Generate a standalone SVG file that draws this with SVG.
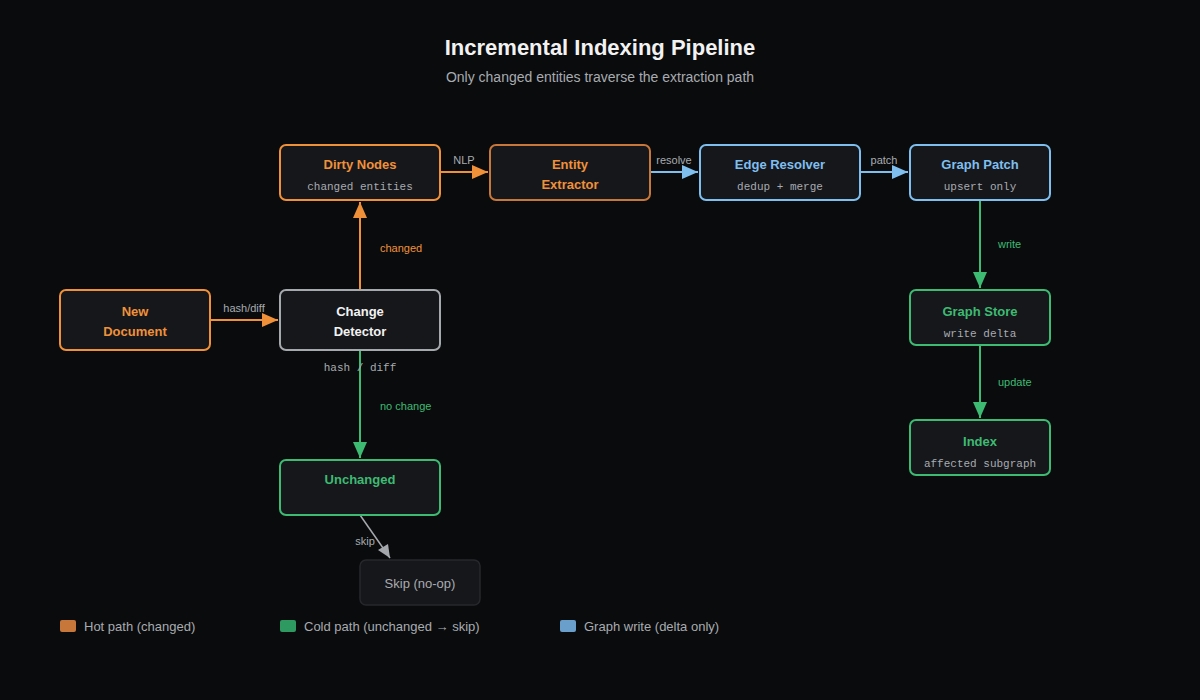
<svg xmlns="http://www.w3.org/2000/svg" width="1200" height="700" viewBox="0 0 1200 700">
<style>
text{font-family:"Liberation Sans",Arial,sans-serif}
.box{fill:#16171b;stroke-width:2}
.t{font-size:13px;font-weight:bold;text-anchor:middle}
.m{font-family:"Liberation Mono","DejaVu Sans Mono",monospace;font-size:11px;fill:#a8abb0;text-anchor:middle}
.l{font-size:11px}
.o{stroke:#f0913a}.g{stroke:#3dbb72}.b{stroke:#7fbfef}.w{stroke:#a5a8ad}
</style>
<defs>
<marker id="ao" viewBox="0 0 10 10" refX="10" refY="5" markerWidth="10" markerHeight="10" markerUnits="userSpaceOnUse" orient="auto"><path d="M0,0L10,5L0,10z" fill="#f0913a"/></marker>
</defs>
<rect width="1200" height="700" fill="#0a0b0d"/>
<text x="600" y="55" font-size="22" font-weight="bold" fill="#f2f2f2" text-anchor="middle">Incremental Indexing Pipeline</text>
<text x="600" y="82" font-size="14" fill="#a8abb0" text-anchor="middle">Only changed entities traverse the extraction path</text>
<g id="connectors" fill="none" stroke-width="2">
<path d="M210,320H278" class="o"/><path d="M262,313L278,320L262,327z" fill="#f0913a" stroke="none"/>
<path d="M360,290V202" class="o"/><path d="M353,218L360,202L367,218z" fill="#f0913a" stroke="none"/>
<path d="M440,172H488" class="o"/><path d="M472,165L488,172L472,179z" fill="#f0913a" stroke="none"/>
<path d="M650,172H698" class="b"/><path d="M682,165L698,172L682,179z" fill="#7fbfef" stroke="none"/>
<path d="M860,172H908" class="b"/><path d="M892,165L908,172L892,179z" fill="#7fbfef" stroke="none"/>
<path d="M360,350V458" class="g"/><path d="M353,442L360,458L367,442z" fill="#3dbb72" stroke="none"/>
<path d="M980,200V288" class="g"/><path d="M973,272L980,288L987,272z" fill="#3dbb72" stroke="none"/>
<path d="M980,345V418" class="g"/><path d="M973,402L980,418L987,402z" fill="#3dbb72" stroke="none"/>
<path d="M360,515L390,558" stroke="#a5a8ad" stroke-width="1.5"/><path d="M378,550L390,558L388,544z" fill="#a5a8ad" stroke="none"/>
<text x="244" y="312" class="l" fill="#a8abb0" text-anchor="middle">hash/diff</text>
<text x="380" y="252" class="l" fill="#f0913a">changed</text>
<text x="464" y="164" class="l" fill="#a8abb0" text-anchor="middle">NLP</text>
<text x="674" y="164" class="l" fill="#a8abb0" text-anchor="middle">resolve</text>
<text x="884" y="164" class="l" fill="#a8abb0" text-anchor="middle">patch</text>
<text x="380" y="410" class="l" fill="#3dbb72">no change</text>
<text x="998" y="248" class="l" fill="#3dbb72">write</text>
<text x="998" y="386" class="l" fill="#3dbb72">update</text>
<text x="365" y="545" class="l" fill="#a8abb0" text-anchor="middle">skip</text>
</g>
<g id="new-document"><rect x="60" y="290" width="150" height="60" rx="6" class="box o"/><text x="135" y="316" class="t" font-size="14" fill="#f0913a">New</text><text x="135" y="336" class="t" font-size="14" fill="#f0913a">Document</text></g>
<g id="change-detector"><rect x="280" y="290" width="160" height="60" rx="6" class="box w"/><text x="360" y="316" class="t" font-size="14" fill="#f2f2f2">Change</text><text x="360" y="336" class="t" font-size="14" fill="#f2f2f2">Detector</text><text x="360" y="371" class="m">hash / diff</text></g>
<g id="dirty-nodes"><rect x="280" y="145" width="160" height="55" rx="6" class="box o"/><text x="360" y="169" class="t" fill="#f0913a">Dirty Nodes</text><text x="360" y="190" class="m">changed entities</text></g>
<g id="entity-extractor"><rect x="490" y="145" width="160" height="55" rx="6" class="box" stroke="#c8773a"/><text x="570" y="169" class="t" fill="#f0913a">Entity</text><text x="570" y="189" class="t" fill="#f0913a">Extractor</text></g>
<g id="edge-resolver"><rect x="700" y="145" width="160" height="55" rx="6" class="box b"/><text x="780" y="169" class="t" fill="#7fbfef">Edge Resolver</text><text x="780" y="190" class="m">dedup + merge</text></g>
<g id="graph-patch"><rect x="910" y="145" width="140" height="55" rx="6" class="box b"/><text x="980" y="169" class="t" fill="#7fbfef">Graph Patch</text><text x="980" y="190" class="m">upsert only</text></g>
<g id="graph-store"><rect x="910" y="290" width="140" height="55" rx="6" class="box g"/><text x="980" y="316" class="t" fill="#3dbb72">Graph Store</text><text x="980" y="337" class="m">write delta</text></g>
<g id="index"><rect x="910" y="420" width="140" height="55" rx="6" class="box g"/><text x="980" y="446" class="t" fill="#3dbb72">Index</text><text x="980" y="467" class="m">affected subgraph</text></g>
<g id="unchanged"><rect x="280" y="460" width="160" height="55" rx="6" class="box g"/><text x="360" y="484" class="t" fill="#3dbb72">Unchanged</text></g>
<g id="skip"><rect x="360" y="560" width="120" height="45" rx="6" fill="#16171b" stroke="#26282c" stroke-width="1.5"/><text x="420" y="588" font-size="13" fill="#a8abb0" text-anchor="middle">Skip (no-op)</text></g>
<g id="legend" font-size="13">
<rect x="60" y="620" width="16" height="12" rx="2" fill="#c8773a"/><text x="84" y="631" fill="#a8abb0">Hot path (changed)</text>
<rect x="280" y="620" width="16" height="12" rx="2" fill="#2e9960"/><text x="304" y="631" fill="#a8abb0">Cold path (unchanged → skip)</text>
<rect x="560" y="620" width="16" height="12" rx="2" fill="#6a9fcc"/><text x="584" y="631" fill="#a8abb0">Graph write (delta only)</text>
</g>
</svg>
